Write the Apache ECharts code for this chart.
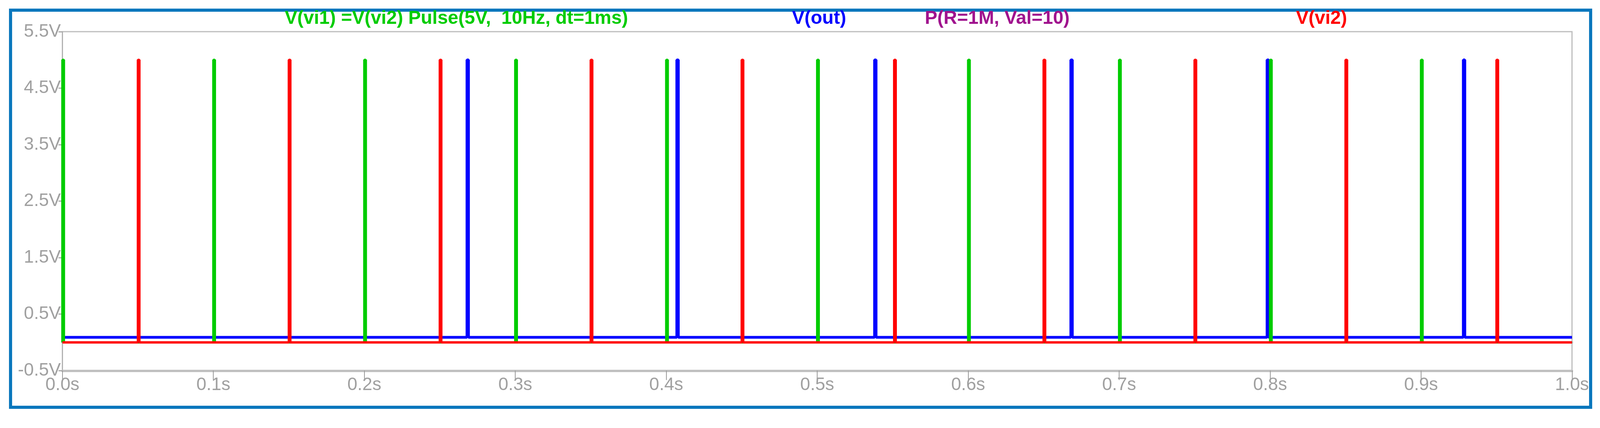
<!DOCTYPE html>
<html><head><meta charset="utf-8">
<script src="https://cdn.jsdelivr.net/npm/echarts@6/dist/echarts.min.js"></script>
<style>
html,body{margin:0;padding:0;background:#fff;width:100%;height:100%;overflow:hidden;}
#frame{position:absolute;left:0.55%;top:2%;right:0.5%;bottom:4.5%;border:8px solid #0a77bd;background:#fff;}
#c{position:absolute;left:0;top:0;width:100%;height:100%;}
</style></head><body>
<div id="frame"></div>
<div id="c"></div>
<script>
const xTicks = [0,0.1,0.2,0.3,0.4,0.5,0.6,0.7,0.8,0.9,1.0];
const yTicks = [-0.5,0.5,1.5,2.5,3.5,4.5,5.5];
const greenPulseTimes = [0.0,0.1,0.2,0.3,0.4,0.5,0.6,0.7,0.8,0.9];
const redPulseTimes = [0.05,0.15,0.25,0.35,0.45,0.551,0.65,0.75,0.85,0.95];
const bluePulseTimes = [0.268,0.407,0.538,0.668,0.798,0.928];
const pulseHigh = 5.0;
const greenBase = 0.0, redBase = 0.0, blueBase = 0.09;
const pulseWidth = 0.001;
const tEnd = 1.0;

function pulses(times, base){
  const d=[[0,base]];
  times.forEach(t=>{ d.push([t,base],[t,pulseHigh],[t+pulseWidth,pulseHigh],[t+pulseWidth,base]); });
  d.push([tEnd,base]);
  return d;
}
const chart = echarts.init(document.getElementById('c'));
const font = '"Liberation Sans Narrow","Liberation Sans",Arial,sans-serif';
chart.setOption({
  backgroundColor:'transparent',
  animation:false,
  grid:{left:'3.9%',right:'1.75%',top:'7.4%',bottom:'13.4%',show:true,borderColor:'#bdbdbd',borderWidth:3},
  xAxis:[{type:'value',min:0,max:1,interval:0.1,
    axisLine:{show:true,onZero:false,lineStyle:{color:'#c0c0c0',width:6}},
    axisTick:{show:true,length:24,lineStyle:{color:'#999',width:2}},
    splitLine:{show:false},
    axisLabel:{color:'#a0a0a0',fontSize:46,fontFamily:font,margin:14,formatter:v=>v.toFixed(1)+'s'}},
   {type:'value',min:0,max:1,position:'top',axisLine:{show:true,lineStyle:{color:'#c0c0c0',width:6}},
    axisTick:{show:false},axisLabel:{show:false},splitLine:{show:false}}],
  yAxis:{type:'value',min:-0.5,max:5.5,interval:1,
    axisLine:{show:true,onZero:false,lineStyle:{color:'#aaa',width:2}},
    axisTick:{show:true,length:10,lineStyle:{color:'#aaa',width:3}},
    splitLine:{show:false},
    axisLabel:{color:'#a0a0a0',fontSize:46,fontFamily:font,margin:4,formatter:v=>v.toFixed(1)+'V'}},
  series:[
    {type:'line',name:'V(out)',data:pulses(bluePulseTimes,blueBase),symbol:'none',lineStyle:{color:'#0000ff',width:7},z:2},
    {type:'line',name:'V(vi1)',data:pulses(greenPulseTimes,greenBase),symbol:'none',lineStyle:{color:'#00cc00',width:6},z:3},
    {type:'line',name:'V(vi2)',data:pulses(redPulseTimes,redBase),symbol:'none',lineStyle:{color:'#ff0000',width:6},z:4}
  ],
  graphic:[
    {type:'text',left:'17.8%',top:'2.2%',style:{text:'V(vi1) =V(vi2) Pulse(5V,  10Hz, dt=1ms)',fill:'#00cc00',font:'bold 48px '+font}},
    {type:'text',left:'49.5%',top:'2.2%',style:{text:'V(out)',fill:'#0000ff',font:'bold 48px '+font}},
    {type:'text',left:'57.8%',top:'2.2%',style:{text:'P(R=1M, Val=10)',fill:'#a0138e',font:'bold 48px '+font}},
    {type:'text',left:'81%',top:'2.2%',style:{text:'V(vi2)',fill:'#ff0000',font:'bold 48px '+font}}
  ]
});
</script></body></html>
